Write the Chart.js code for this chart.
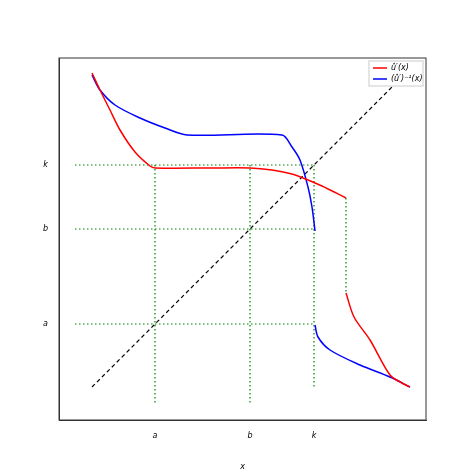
<!DOCTYPE html>
<html><head><script src="https://cdn.jsdelivr.net/npm/chart.js@4"></script>
<style>html,body{margin:0;background:#fff}</style></head><body>
<canvas id="c" width="474" height="472" style="width:474px;height:472px"></canvas>
<script>
const A=0.63,B=1.58,K=2.22;
const tickVals=[A,B,K];
const tickLabels=['a','b','k'];
const legendLabels=["û′(x)","(û′)⁻¹(x)"];
const red1=[[0,3.14],[0.08,2.97],[0.18,2.77],[0.28,2.57],[0.43,2.35],[0.58,2.21],[0.63,2.19],[1.2,2.19],[1.58,2.19],[1.8,2.17],[2.0,2.13],[2.11,2.09],[2.3,2.01],[2.54,1.89]];
const red2=[[2.54,0.94],[2.62,0.7],[2.78,0.47],[2.98,0.12],[3.1,0.04],[3.18,0]];
const blue1=[[0,3.12],[0.08,2.97],[0.23,2.82],[0.48,2.69],[0.73,2.59],[0.95,2.52],[1.9,2.52],[2.0,2.4],[2.08,2.27],[2.16,2.0],[2.2,1.8],[2.23,1.56]];
const blue2=[[2.23,0.62],[2.26,0.5],[2.38,0.37],[2.68,0.22],[2.98,0.1],[3.18,0]];
const diag=[[0,0],[3.18,3.18]];
const pts=a=>a.map(p=>({x:p[0],y:p[1]}));
const g=(d)=>({data:pts(d),borderColor:'green',borderWidth:1.2,borderDash:[1.5,2.5],pointRadius:0,showLine:true,fill:false});
const greens=[
 [[-0.17,K],[K,K]],[[-0.17,B],[K,B]],[[-0.17,A],[K,A]],
 [[A,K],[A,-0.18]],[[B,K],[B,-0.18]],[[K,K],[K,0]],[[2.54,1.89],[2.54,0.94]]
].map(g);
new Chart(document.getElementById('c'),{type:'scatter',
data:{datasets:[
 {label:legendLabels[0],data:pts(red1),borderColor:'red',borderWidth:1.5,pointRadius:0,showLine:true,tension:0.3},
 {label:legendLabels[1],data:pts(blue1),borderColor:'blue',borderWidth:1.5,pointRadius:0,showLine:true,tension:0.3},
 {label:'r2',data:pts(red2),borderColor:'red',borderWidth:1.5,pointRadius:0,showLine:true,tension:0.3},
 {label:'b2',data:pts(blue2),borderColor:'blue',borderWidth:1.5,pointRadius:0,showLine:true,tension:0.3},
 {label:'d',data:pts(diag),borderColor:'black',borderWidth:1.2,borderDash:[4,3],pointRadius:0,showLine:true},
 ...greens.map((d,i)=>Object.assign(d,{label:'g'+i}))
]},
options:{responsive:false,animation:false,devicePixelRatio:1,
 layout:{padding:{top:58,right:48,left:0,bottom:0}},
 plugins:{legend:{display:false},tooltip:{enabled:false}},
 scales:{
  x:{type:'linear',min:-0.33,max:3.34,grid:{display:false},border:{color:'#333'},
    afterBuildTicks:s=>{s.ticks=tickVals.map(v=>({value:v}))},
    afterFit:s=>{s.height=52},
    ticks:{callback:(v,i)=>tickLabels[i],font:{size:8,family:'DejaVu Sans',style:'italic'},color:'#000',maxRotation:0},
    title:{display:true,text:'x',font:{size:8,family:'DejaVu Sans',style:'italic'},color:'#000',padding:0}},
  y:{type:'linear',min:-0.33,max:3.29,grid:{display:false},border:{color:'#333'},
    afterBuildTicks:s=>{s.ticks=tickVals.map(v=>({value:v}))},
    afterFit:s=>{s.width=59},
    ticks:{callback:(v,i)=>tickLabels[i],font:{size:8,family:'DejaVu Sans',style:'italic'},color:'#000'}}
 }},
plugins:[{id:'frame',afterDraw(c){const a=c.chartArea,x=c.ctx;x.save();x.strokeStyle='#333';x.lineWidth=1;x.strokeRect(a.left,a.top,a.right-a.left,a.bottom-a.top);
 const L=a.right-57,T=a.top+3;x.strokeStyle='#ccc';x.fillStyle='#fff';x.fillRect(L,T,54,25);x.strokeRect(L,T,54,25);
 x.font='italic 8px DejaVu Sans';x.textBaseline='middle';x.lineWidth=1.5;
 [['red',legendLabels[0]],['blue',legendLabels[1]]].forEach((e,i)=>{const yy=T+7+i*11;x.strokeStyle=e[0];x.beginPath();x.moveTo(L+4,yy);x.lineTo(L+18,yy);x.stroke();x.fillStyle='#000';x.fillText(e[1],L+22,yy);});
 x.restore();}}]
});
</script></body></html>
